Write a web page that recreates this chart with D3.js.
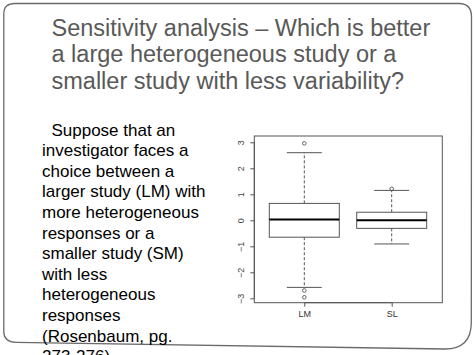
<!DOCTYPE html>
<html>
<head>
<meta charset="utf-8">
<script src="https://cdn.jsdelivr.net/npm/d3@7"></script>
<style>
  html, body { margin: 0; padding: 0; background: #fff; }
  svg { display: block; }
</style>
</head>
<body>
<svg id="chart" width="474" height="355"></svg>
<script>
// ---- Data ----
const titleLines = [
  "Sensitivity analysis \u2013 Which is better",
  "a large heterogeneous study or a",
  "smaller study with less variability?"
];
const bodyLines = [
  "\u00a0 Suppose that an",
  "investigator faces a",
  "choice between a",
  "larger study (LM) with",
  "more heterogeneous",
  "responses or a",
  "smaller study (SM)",
  "with less",
  "heterogeneous",
  "responses",
  "(Rosenbaum, pg.",
  "273-276)"
];
const categories = ["LM", "SL"];
const q1 = [-0.65, -0.31];
const medians = [0.03, 0.0];
const q3 = [0.65, 0.31];
const whiskerLow = [-2.58, -0.91];
const whiskerHigh = [2.60, 1.15];
const outliers = [[2.96, -2.70, -2.96], [1.21]];
const yTicks = [-3, -2, -1, 0, 1, 2, 3];

const svg = d3.select("#chart");
const font = "'Liberation Sans', Arial, Helvetica, sans-serif";

// ---- Slide frame ----
svg.append("path")
  .attr("d", "M3.8,14 Q3.8,3.5 15,3.5 L459,3.5 Q471.5,3.5 471.5,17 L471.3,323 Q471,349 445,349 L16,342.3 Q4,342 3.8,332 Z")
  .attr("fill", "none")
  .attr("stroke", "#6a6a6a")
  .attr("stroke-width", 1.3);

// ---- Title ----
svg.append("g").selectAll("text").data(titleLines).join("text")
  .attr("x", 51.5)
  .attr("y", (d, i) => 35.5 + i * 26.7)
  .attr("font-family", font)
  .attr("font-size", 23.5)
  .attr("fill", "#595959")
  .text(d => d);

// ---- Body text ----
svg.append("g").selectAll("text").data(bodyLines).join("text")
  .attr("x", 42)
  .attr("y", (d, i) => 135.5 + i * 20.6)
  .attr("font-family", font)
  .attr("font-size", 17)
  .attr("fill", "#000")
  .attr("xml:space", "preserve")
  .text(d => d);

// ---- Box plot ----
const plotL = 254.3, plotR = 442.3, plotT = 136, plotB = 302.7;
const y = d3.scaleLinear().domain([-3, 3]).range([298.3, 142.3]);
const x = d3.scalePoint().domain(categories).range([304.3, 391.7]);
const boxW = 70, capW = 35;
const lineCol = "#555";

const g = svg.append("g");

// plot frame
g.append("rect")
  .attr("x", plotL).attr("y", plotT)
  .attr("width", plotR - plotL).attr("height", plotB - plotT)
  .attr("fill", "none").attr("stroke", lineCol).attr("stroke-width", 1);

// y axis
const yAxis = d3.axisLeft(y).tickValues(yTicks).tickSize(4).tickPadding(3).tickFormat(d3.format("d"));
const ya = g.append("g").attr("transform", `translate(${plotL},0)`).call(yAxis);
ya.select(".domain").attr("stroke", lineCol).attr("d", `M0,${y(-3)}V${y(3)}`);
ya.selectAll(".tick line").attr("stroke", lineCol);
ya.selectAll(".tick text")
  .attr("font-family", font).attr("font-size", 9).attr("fill", "#444")
  .attr("text-anchor", "middle")
  .attr("x", null)
  .attr("transform", "translate(-13.5,0) rotate(-90)")
  .attr("dy", "0.35em");

// x axis
const xAxis = d3.axisBottom(x).tickSize(4).tickPadding(4);
const xa = g.append("g").attr("transform", `translate(0,${plotB})`).call(xAxis);
xa.select(".domain").attr("stroke", lineCol).attr("d", `M${x("LM")},0H${x("SL")}`);
xa.selectAll(".tick line").attr("stroke", lineCol);
xa.selectAll(".tick text").attr("font-family", font).attr("font-size", 9).attr("fill", "#333");

categories.forEach((c, i) => {
  const cx = x(c);
  // whiskers (dashed)
  g.append("line").attr("x1", cx).attr("x2", cx).attr("y1", y(q3[i])).attr("y2", y(whiskerHigh[i]))
    .attr("stroke", lineCol).attr("stroke-dasharray", "3,2");
  g.append("line").attr("x1", cx).attr("x2", cx).attr("y1", y(q1[i])).attr("y2", y(whiskerLow[i]))
    .attr("stroke", lineCol).attr("stroke-dasharray", "3,2");
  // caps
  [whiskerHigh[i], whiskerLow[i]].forEach(v => {
    g.append("line").attr("x1", cx - capW / 2).attr("x2", cx + capW / 2)
      .attr("y1", y(v)).attr("y2", y(v)).attr("stroke", lineCol);
  });
  // box
  g.append("rect").attr("x", cx - boxW / 2).attr("y", y(q3[i]))
    .attr("width", boxW).attr("height", y(q1[i]) - y(q3[i]))
    .attr("fill", "#fff").attr("stroke", lineCol);
  // median
  g.append("line").attr("x1", cx - boxW / 2).attr("x2", cx + boxW / 2)
    .attr("y1", y(medians[i])).attr("y2", y(medians[i]))
    .attr("stroke", "#000").attr("stroke-width", 2);
  // outliers
  g.selectAll(null).data(outliers[i]).join("circle")
    .attr("cx", cx).attr("cy", d => y(d)).attr("r", 1.8)
    .attr("fill", "none").attr("stroke", lineCol).attr("stroke-width", 0.9);
});
</script>
</body>
</html>
